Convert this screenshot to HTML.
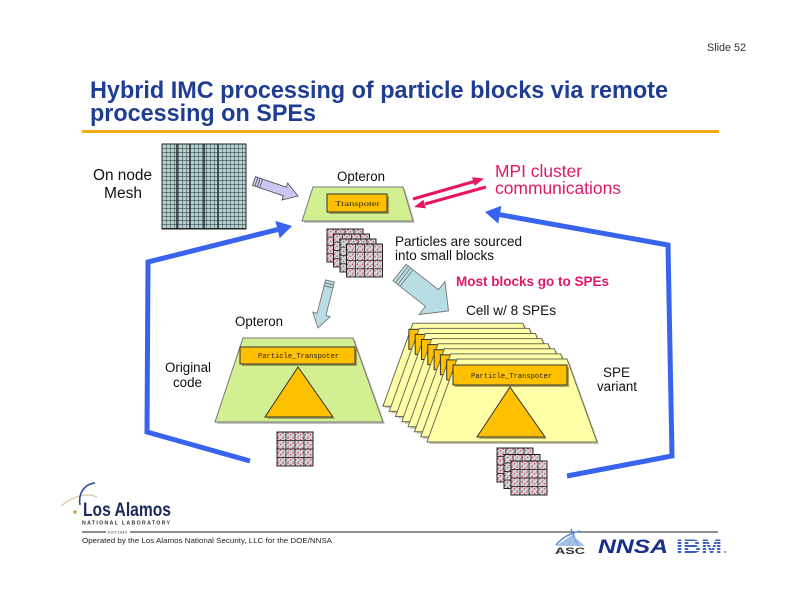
<!DOCTYPE html>
<html>
<head>
<meta charset="utf-8">
<style>
  html,body{margin:0;padding:0;background:#fff;}
  svg{display:block;}
  text{font-family:"Liberation Sans",Arial,sans-serif;}
</style>
</head>
<body>
<svg width="800" height="600" viewBox="0 0 800 600" xmlns="http://www.w3.org/2000/svg">
  <defs>
    <pattern id="meshp" x="162" y="144" width="4" height="4" patternUnits="userSpaceOnUse">
      <rect width="4" height="4" fill="#b4d0d0"/>
      <path d="M0 0H4M0 0V4" stroke="#1e2e2e" stroke-width="0.9"/>
    </pattern>
    <pattern id="dots" width="5" height="5" patternUnits="userSpaceOnUse">
      <circle cx="1" cy="1" r="0.75" fill="#d43048"/>
      <circle cx="3.6" cy="2.8" r="0.7" fill="#d43048"/>
      <circle cx="1.8" cy="4.2" r="0.5" fill="#c84058"/>
    </pattern>
    <g id="pg">
      <rect x="0" y="0" width="36" height="34" fill="#cdd6d9"/>
      <rect x="0" y="0" width="36" height="34" fill="url(#dots)"/>
      <path d="M0 8.5H36M0 17H36M0 25.5H36M9 0V34M18 0V34M27 0V34" stroke="#4a3a3a" stroke-width="0.9" fill="none"/>
      <rect x="0" y="0" width="36" height="34" fill="none" stroke="#222" stroke-width="1"/>
    </g>
    <g id="spe">
      <polygon points="459,361 569,361 599,444 429,444" fill="#8a8a70" opacity="0.5"/>
      <polygon points="457,359 567,359 597,442 427,442" fill="#ffffa8" stroke="#6e6e50" stroke-width="1"/>
      <rect x="455" y="367" width="114" height="20" fill="#7a6a30" opacity="0.6"/>
      <rect x="453" y="365" width="114" height="20" fill="#ffc000" stroke="#333" stroke-width="1"/>
      <polygon points="512,389 547,439 479,439" fill="#7a6a30" opacity="0.5"/>
      <polygon points="510,387 545,437 477,437" fill="#ffc000" stroke="#333" stroke-width="1"/>
    </g>
  </defs>

  <!-- header -->
  <text x="707" y="51" font-size="11" fill="#333" textLength="39" lengthAdjust="spacingAndGlyphs">Slide 52</text>
  <text x="90" y="98" font-size="24" font-weight="bold" fill="#1f3d91" textLength="578" lengthAdjust="spacingAndGlyphs">Hybrid IMC processing of particle blocks via remote</text>
  <text x="90" y="121" font-size="24" font-weight="bold" fill="#1f3d91" textLength="226" lengthAdjust="spacingAndGlyphs">processing on SPEs</text>
  <rect x="82" y="130" width="637" height="3" fill="#f4aa10"/>

  <!-- mesh -->
  <rect x="162" y="144" width="84" height="85" fill="url(#meshp)" stroke="#222" stroke-width="1"/>
  <path d="M177 144V229M190 144V229M204 144V229M218 144V229" stroke="#111" stroke-width="1.3"/>
  <text x="93" y="180" font-size="15.5" fill="#111" textLength="59" lengthAdjust="spacingAndGlyphs">On node</text>
  <text x="104" y="198" font-size="15.5" fill="#111" textLength="38" lengthAdjust="spacingAndGlyphs">Mesh</text>

  <!-- lavender arrow -->
  <polygon points="255.5,176.7 286.3,187.2 287.7,183 298,196 281.9,200 283.3,195.8 252.5,185.3" fill="#c8c8f2" stroke="#555" stroke-width="0.9"/>
  <path d="M254.9,186.1L257.9,177.5M257.3,186.9L260.2,178.3M259.6,187.7L262.6,179.1" stroke="#555" stroke-width="0.8"/>

  <!-- top opteron -->
  <text x="337" y="181" font-size="13.5" fill="#111" textLength="48" lengthAdjust="spacingAndGlyphs">Opteron</text>
  <polygon points="315,189 405,189 415,223 304,223" fill="#888" opacity="0.5"/>
  <polygon points="313,187 403,187 413,221 302,221" fill="#d2f091" stroke="#777" stroke-width="1"/>
  <rect x="329" y="196" width="60" height="18" fill="#7a6a30" opacity="0.6"/>
  <rect x="327" y="194" width="60" height="18" fill="#ffc000" stroke="#333" stroke-width="1"/>
  <text x="335" y="206" font-size="7.5" fill="#222" textLength="45" lengthAdjust="spacingAndGlyphs" style="font-family:'Liberation Serif',serif">Transpoter</text>

  <!-- MPI arrows -->
  <line x1="413" y1="199" x2="474" y2="181.5" stroke="#e8175d" stroke-width="3"/>
  <polygon points="484,178.5 474.7,185.9 472.1,177.3" fill="#e8175d"/>
  <line x1="486" y1="187" x2="425" y2="204" stroke="#e8175d" stroke-width="3"/>
  <polygon points="414,207 423.4,199.8 425.8,208.4" fill="#e8175d"/>
  <text x="495" y="177" font-size="17.5" fill="#e0186a" textLength="87" lengthAdjust="spacingAndGlyphs">MPI cluster</text>
  <text x="495" y="194" font-size="17.5" fill="#e0186a" textLength="126" lengthAdjust="spacingAndGlyphs">communications</text>

  <!-- top particle stack -->
  <use href="#pg" transform="translate(327,229) scale(1,0.97)"/>
  <use href="#pg" transform="translate(333.5,234) scale(1,0.97)"/>
  <use href="#pg" transform="translate(340,239) scale(1,0.97)"/>
  <use href="#pg" transform="translate(346.5,244) scale(1,0.97)"/>

  <text x="395" y="246" font-size="13.6" fill="#111" textLength="127" lengthAdjust="spacingAndGlyphs">Particles are sourced</text>
  <text x="395" y="260" font-size="13.6" fill="#111" textLength="99" lengthAdjust="spacingAndGlyphs">into small blocks</text>

  <!-- left loop -->
  <polyline points="250,461 147,432 148,262 277.5,229.6" fill="none" stroke="#3763ee" stroke-width="5" stroke-linejoin="miter"/>
  <polygon points="292,226 279.7,238.3 275.3,220.9" fill="#3763ee"/>

  <!-- right loop -->
  <polyline points="567,476 672,456 668,245 499.8,214.7" fill="none" stroke="#3763ee" stroke-width="5" stroke-linejoin="miter"/>
  <polygon points="485,212 501.4,205.8 498.2,223.6" fill="#3763ee"/>

  <!-- small down arrow -->
  <polygon points="325.6,279.9 317.1,313.3 312.8,312.2 318,328 330.2,316.6 325.9,315.5 334.4,282.1" fill="#b8dde2" stroke="#777" stroke-width="0.9"/>
  <path d="M324.9,282.8L333.6,285M324.1,285.7L332.9,287.9" stroke="#666" stroke-width="0.8"/>

  <!-- big arrow -->
  <polygon points="406,264.2 438.5,289.7 445,281.5 448.5,311 419,314.5 425.5,306.3 393,280.8" fill="#b8dde3" stroke="#777" stroke-width="0.9"/>
  <path d="M408.4,266.1L395.4,282.7M410.7,267.9L397.7,284.5M413.1,269.8L400.1,286.4" stroke="#777" stroke-width="0.8"/>

  <text x="456" y="286" font-size="13.5" font-weight="bold" fill="#e0186a" textLength="153" lengthAdjust="spacingAndGlyphs">Most blocks go to SPEs</text>
  <text x="466" y="315" font-size="13.6" fill="#111" textLength="90" lengthAdjust="spacingAndGlyphs">Cell w/ 8 SPEs</text>

  <!-- bottom-left opteron -->
  <text x="235" y="326" font-size="13.5" fill="#111" textLength="48" lengthAdjust="spacingAndGlyphs">Opteron</text>
  <polygon points="245,340 355,340 385,424 217,424" fill="#888" opacity="0.5"/>
  <polygon points="243,338 353,338 383,422 215,422" fill="#d2f091" stroke="#777" stroke-width="1"/>
  <rect x="242" y="349" width="115" height="17" fill="#7a6a30" opacity="0.6"/>
  <rect x="240" y="347" width="115" height="17" fill="#ffc000" stroke="#333" stroke-width="1"/>
  <text x="258" y="358" font-size="7" fill="#222" textLength="81" lengthAdjust="spacingAndGlyphs" style="font-family:'Liberation Mono',monospace">Particle_Transpoter</text>
  <polygon points="300,369 335,419 267,419" fill="#7a6a30" opacity="0.5"/>
  <polygon points="298,367 333,417 265,417" fill="#ffc000" stroke="#333" stroke-width="1"/>
  <text x="165" y="372" font-size="13.5" fill="#111" textLength="46" lengthAdjust="spacingAndGlyphs">Original</text>
  <text x="173" y="387" font-size="13.5" fill="#111" textLength="29" lengthAdjust="spacingAndGlyphs">code</text>
  <use href="#pg" transform="translate(277,432)"/>

  <!-- SPE stack -->
  <use href="#spe" transform="translate(-44.1,-35.7)"/>
  <use href="#spe" transform="translate(-37.8,-30.6)"/>
  <use href="#spe" transform="translate(-31.5,-25.5)"/>
  <use href="#spe" transform="translate(-25.2,-20.4)"/>
  <use href="#spe" transform="translate(-18.9,-15.3)"/>
  <use href="#spe" transform="translate(-12.6,-10.2)"/>
  <use href="#spe" transform="translate(-6.3,-5.1)"/>
  <use href="#spe"/>
  <text x="471" y="378" font-size="7" fill="#222" textLength="81" lengthAdjust="spacingAndGlyphs" style="font-family:'Liberation Mono',monospace">Particle_Transpoter</text>
  <text x="603" y="377" font-size="13.5" fill="#111" textLength="27" lengthAdjust="spacingAndGlyphs">SPE</text>
  <text x="597" y="391" font-size="13.5" fill="#111" textLength="40" lengthAdjust="spacingAndGlyphs">variant</text>

  <!-- bottom-right stack -->
  <use href="#pg" transform="translate(497,448)"/>
  <use href="#pg" transform="translate(504,454.5)"/>
  <use href="#pg" transform="translate(511,461)"/>

  <!-- footer: Los Alamos -->
  <path d="M61,506 C72,497 86,492 97,497" fill="none" stroke="#d9cba0" stroke-width="1.3"/>
  <path d="M80,505 C78,494 84,484 95,483" fill="none" stroke="#2d4c9c" stroke-width="1.6"/>
  <circle cx="75" cy="512" r="1.7" fill="#c8a040"/>
  <text x="83" y="516" font-size="19" font-weight="bold" fill="#1b2a5a" textLength="88" lengthAdjust="spacingAndGlyphs">Los Alamos</text>
  <text x="82" y="524.5" font-size="5.2" font-weight="bold" fill="#333" textLength="88" lengthAdjust="spacing">NATIONAL LABORATORY</text>
  <line x1="82" y1="532" x2="106" y2="532" stroke="#222" stroke-width="1"/>
  <text x="108" y="533.5" font-size="3.8" fill="#444" textLength="19" lengthAdjust="spacingAndGlyphs">EST.1943</text>
  <line x1="130" y1="532" x2="718" y2="532" stroke="#222" stroke-width="1"/>
  <text x="82" y="543" font-size="7.3" fill="#222" textLength="250" lengthAdjust="spacingAndGlyphs">Operated by the Los Alamos National Security, LLC for the DOE/NNSA</text>

  <!-- footer: ASC / NNSA / IBM -->
  <path d="M556,545 C562,538 568,534 580,531 M571,529 L578,546" fill="none" stroke="#5a8ad0" stroke-width="1.5"/>
  <polygon points="556,546 572,535 585,546" fill="#8ab0e0" opacity="0.8"/>
  <text x="555" y="554" font-size="9" font-weight="bold" fill="#333" textLength="30" lengthAdjust="spacingAndGlyphs">ASC</text>
  <text x="598" y="553" font-size="19" font-weight="bold" font-style="italic" fill="#1a2f8a" textLength="70" lengthAdjust="spacingAndGlyphs">NNSA</text>
  <text x="676" y="553" font-size="19" font-weight="bold" fill="#3b5fc0" textLength="46" lengthAdjust="spacingAndGlyphs">IBM</text>
  <path d="M674,541.5H724M674,544.5H724M674,547.5H724M674,550.5H724" stroke="#fff" stroke-width="1"/>
  <circle cx="725" cy="552" r="0.9" fill="#3b5fc0"/>
</svg>
</body>
</html>
